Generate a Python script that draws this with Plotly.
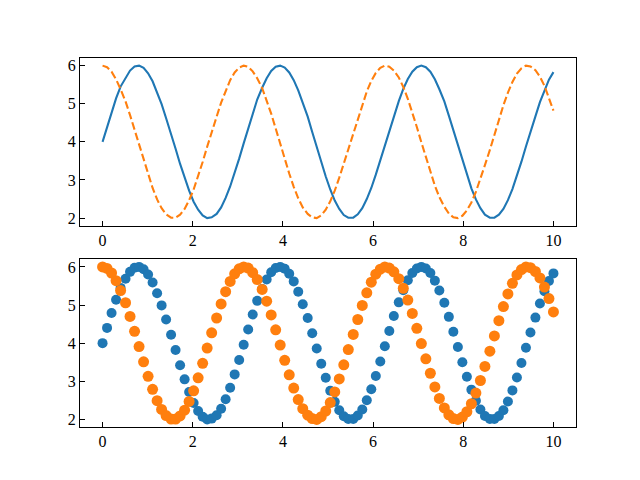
import plotly.graph_objects as go

BLUE = "#1f77b4"
ORANGE = "#ff7f0e"

x = [
    0.00, 0.10, 0.20, 0.30, 0.40, 0.51, 0.61, 0.71, 0.81, 0.91,
    1.01, 1.11, 1.21, 1.31, 1.41, 1.52, 1.62, 1.72, 1.82, 1.92,
    2.02, 2.12, 2.22, 2.32, 2.42, 2.53, 2.63, 2.73, 2.83, 2.93,
    3.03, 3.13, 3.23, 3.33, 3.43, 3.54, 3.64, 3.74, 3.84, 3.94,
    4.04, 4.14, 4.24, 4.34, 4.44, 4.55, 4.65, 4.75, 4.85, 4.95,
    5.05, 5.15, 5.25, 5.35, 5.45, 5.56, 5.66, 5.76, 5.86, 5.96,
    6.06, 6.16, 6.26, 6.36, 6.46, 6.57, 6.67, 6.77, 6.87, 6.97,
    7.07, 7.17, 7.27, 7.37, 7.47, 7.58, 7.68, 7.78, 7.88, 7.98,
    8.08, 8.18, 8.28, 8.38, 8.48, 8.59, 8.69, 8.79, 8.89, 8.99,
    9.09, 9.19, 9.29, 9.39, 9.49, 9.60, 9.70, 9.80, 9.90, 10.00,
]

# blue series
y_sin = [
    4.00, 4.40, 4.79, 5.14, 5.45, 5.69, 5.87, 5.98, 6.00, 5.94,
    5.80, 5.59, 5.31, 4.99, 4.62, 4.22, 3.82, 3.42, 3.05, 2.72,
    2.43, 2.22, 2.07, 2.00, 2.02, 2.11, 2.28, 2.53, 2.83, 3.18,
    3.56, 3.96, 4.36, 4.75, 5.11, 5.42, 5.67, 5.86, 5.97, 6.00,
    5.95, 5.82, 5.62, 5.35, 5.02, 4.66, 4.26, 3.86, 3.46, 3.09,
    2.75, 2.46, 2.24, 2.08, 2.01, 2.01, 2.10, 2.26, 2.50, 2.79,
    3.14, 3.52, 3.92, 4.32, 4.71, 5.07, 5.39, 5.65, 5.84, 5.96,
    6.00, 5.96, 5.84, 5.64, 5.38, 5.06, 4.69, 4.30, 3.90, 3.50,
    3.12, 2.78, 2.49, 2.26, 2.09, 2.01, 2.01, 2.09, 2.24, 2.47,
    2.76, 3.10, 3.48, 3.88, 4.28, 4.67, 5.04, 5.36, 5.63, 5.83,
]

# orange series
y_cos = [
    6.00, 5.96, 5.84, 5.64, 5.38, 5.06, 4.70, 4.31, 3.91, 3.51,
    3.13, 2.79, 2.49, 2.26, 2.10, 2.01, 2.01, 2.09, 2.24, 2.47,
    2.75, 3.09, 3.47, 3.87, 4.27, 4.66, 5.03, 5.35, 5.62, 5.82,
    5.95, 6.00, 5.97, 5.85, 5.67, 5.41, 5.10, 4.74, 4.35, 3.95,
    3.55, 3.17, 2.82, 2.52, 2.28, 2.11, 2.02, 2.00, 2.07, 2.22,
    2.44, 2.72, 3.06, 3.43, 3.83, 4.23, 4.62, 4.99, 5.32, 5.60,
    5.81, 5.94, 6.00, 5.97, 5.87, 5.69, 5.44, 5.13, 4.78, 4.39,
    3.99, 3.59, 3.21, 2.85, 2.55, 2.30, 2.12, 2.02, 2.00, 2.06,
    2.20, 2.41, 2.69, 3.02, 3.39, 3.79, 4.19, 4.59, 4.96, 5.29,
    5.57, 5.79, 5.93, 6.00, 5.98, 5.88, 5.71, 5.47, 5.17, 4.82,
]

x_ticks = [0, 2, 4, 6, 8, 10]
y_ticks = [2, 3, 4, 5, 6]

fig = go.Figure()

# top panel: lines
fig.add_trace(go.Scatter(x=x, y=y_sin, mode="lines",
                         line=dict(color=BLUE, width=2.1),
                         xaxis="x", yaxis="y"))
fig.add_trace(go.Scatter(x=x, y=y_cos, mode="lines",
                         line=dict(color=ORANGE, width=2.1, dash="7.7px,3.3px"),
                         xaxis="x", yaxis="y"))

# bottom panel: markers
fig.add_trace(go.Scatter(x=x, y=y_sin, mode="markers",
                         marker=dict(color=BLUE, size=10, line=dict(width=0)),
                         xaxis="x2", yaxis="y2"))
fig.add_trace(go.Scatter(x=x, y=y_cos, mode="markers",
                         marker=dict(color=ORANGE, size=11, line=dict(width=0)),
                         xaxis="x2", yaxis="y2"))

axis_style = dict(
    showgrid=False, zeroline=False,
    showline=True, mirror=True, linecolor="black", linewidth=1.1,
    ticks="inside", ticklen=5, tickwidth=1.1, tickcolor="black",
    ticklabelstandoff=0,
)

# page body adds an 8px offset, margins compensate for it
fig.update_layout(
    width=640, height=480,
    margin=dict(l=72, r=72, t=50, b=61),
    paper_bgcolor="white", plot_bgcolor="white",
    showlegend=False,
    font=dict(family="Liberation Serif", size=16, color="black"),
    xaxis=dict(domain=[0, 1], anchor="y", range=[-0.5, 10.5],
               tickvals=x_ticks, **axis_style),
    yaxis=dict(domain=[0.5455, 1], anchor="x", range=[1.8, 6.2],
               tickvals=y_ticks, **axis_style),
    xaxis2=dict(domain=[0, 1], anchor="y2", range=[-0.5, 10.5],
                tickvals=x_ticks, **axis_style),
    yaxis2=dict(domain=[0, 0.4545], anchor="x2", range=[1.8, 6.2],
                tickvals=y_ticks, **axis_style),
)

fig.write_html("out.html")
